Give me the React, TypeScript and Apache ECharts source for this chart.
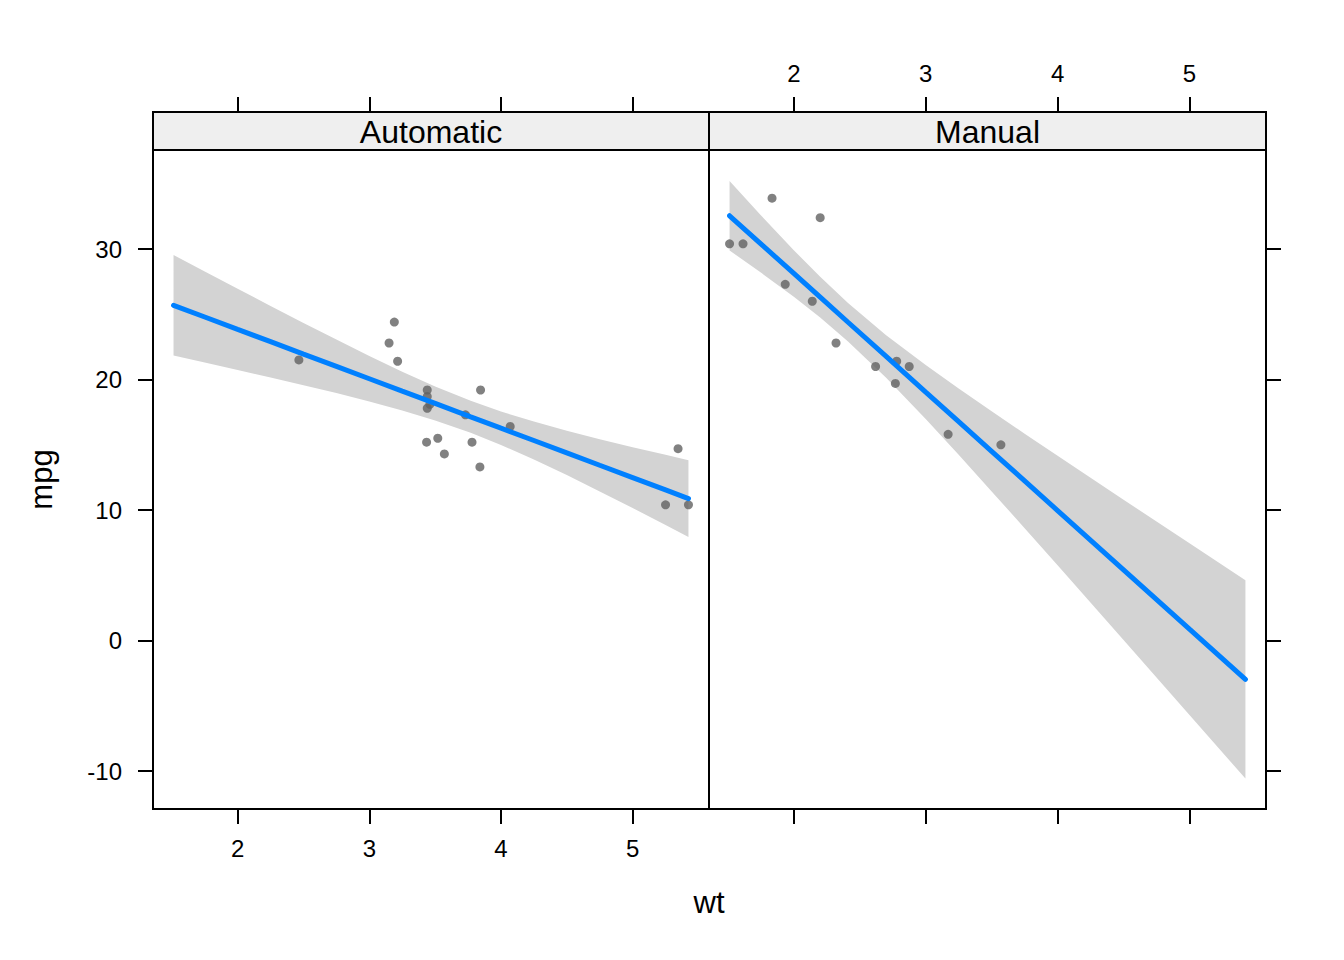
import React, { useEffect, useRef } from "react";
import * as echarts from "echarts";

// Raw data (mtcars): weight (1000 lbs) and mpg by transmission
const autoWt = [3.215, 3.44, 3.46, 3.57, 3.19, 3.15, 3.44, 3.44, 4.07, 3.73, 3.78, 5.25, 5.424, 5.345, 2.465, 3.52, 3.435, 3.84, 3.845];
const autoMpg = [21.4, 18.7, 18.1, 14.3, 24.4, 22.8, 19.2, 17.8, 16.4, 17.3, 15.2, 10.4, 10.4, 14.7, 21.5, 15.5, 15.2, 13.3, 19.2];
const manWt = [2.62, 2.875, 2.32, 2.2, 1.615, 1.835, 1.935, 2.14, 1.513, 3.17, 2.77, 3.57, 2.78];
const manMpg = [21, 21, 22.8, 32.4, 30.4, 33.9, 27.3, 26, 30.4, 15.8, 19.7, 15, 21.4];

// Fitted line and confidence band
const autoBandWt = [1.513, 1.75, 2.0, 2.25, 2.5, 2.75, 3.0, 3.25, 3.5, 3.77, 4.0, 4.25, 4.5, 4.75, 5.0, 5.25, 5.424];
const autoFit = [25.69, 24.79, 23.84, 22.9, 21.95, 21.01, 20.06, 19.11, 18.17, 17.14, 16.27, 15.33, 14.38, 13.43, 12.49, 11.54, 10.88];
const autoLower = [21.84, 21.3, 20.73, 20.16, 19.56, 18.96, 18.31, 17.63, 16.87, 15.92, 14.99, 13.88, 12.68, 11.43, 10.15, 8.85, 7.94];
const autoUpper = [29.54, 28.28, 26.96, 25.64, 24.34, 23.06, 21.8, 20.6, 19.46, 18.37, 17.55, 16.78, 16.08, 15.43, 14.82, 14.23, 13.82];

const manBandWt = [1.513, 1.75, 2.0, 2.2, 2.411, 2.7, 3.0, 3.25, 3.5, 3.75, 4.0, 4.5, 5.0, 5.424];
const manFit = [32.55, 30.4, 28.13, 26.31, 24.39, 21.77, 19.04, 16.77, 14.5, 12.23, 9.96, 5.42, 0.87, -2.98];
const manLower = [29.89, 28.2, 26.34, 24.75, 22.92, 20.14, 16.97, 14.23, 11.43, 8.61, 5.76, 0.04, -5.7, -10.58];
const manUpper = [35.21, 32.59, 29.91, 27.87, 25.86, 23.4, 21.11, 19.31, 17.57, 15.85, 14.16, 10.79, 7.45, 4.62];

const panelNames = ["Automatic", "Manual"];
const xTicks = [2, 3, 4, 5];
const yTicks = [-10, 0, 10, 20, 30];

const FONT = '"Liberation Sans", Arial, Helvetica, sans-serif';
const X_MIN = 1.357;
const X_MAX = 5.58;
const Y_MIN = -12.91;
const Y_MAX = 37.59;

const PANEL_TOP = 150;
const PANEL_H = 659;
const STRIP_H = 38;
const PANELS = [
  { left: 153, width: 556 },
  { left: 709, width: 557 },
];

function bandSeries(idx: number, wt: number[], lower: number[], upper: number[]) {
  return {
    type: "custom",
    xAxisIndex: idx,
    yAxisIndex: idx,
    silent: true,
    z: 1,
    data: [[wt[0], lower[0]]],
    renderItem: (_params: any, api: any) => {
      const pts: number[][] = [];
      for (let i = 0; i < wt.length; i++) pts.push(api.coord([wt[i], upper[i]]));
      for (let i = wt.length - 1; i >= 0; i--) pts.push(api.coord([wt[i], lower[i]]));
      return {
        type: "polygon",
        shape: { points: pts },
        style: { fill: "#d3d3d3", stroke: "none" },
      };
    },
  };
}

function xAxisDef(grid: number, position: "top" | "bottom", labels: boolean, offset = 0) {
  return {
    type: "value",
    gridIndex: grid,
    position,
    offset,
    min: X_MIN,
    max: X_MAX,
    axisLine: { show: false, onZero: false },
    splitLine: { show: false },
    axisTick: {
      show: true,
      inside: false,
      length: 15,
      customValues: xTicks,
      lineStyle: { color: "#000", width: 2 },
    },
    axisLabel: {
      show: labels,
      customValues: xTicks,
      margin: 27,
      color: "#000",
      fontSize: 24,
      fontFamily: FONT,
    },
  };
}

export default function App() {
  const ref = useRef<HTMLDivElement>(null);

  useEffect(() => {
    if (!ref.current) return;
    const chart = echarts.init(ref.current, null, { renderer: "svg" });

    const option: any = {
      animation: false,
      backgroundColor: "#ffffff",
      grid: PANELS.map((p) => ({
        left: p.left,
        top: PANEL_TOP,
        width: p.width,
        height: PANEL_H,
        show: true,
        borderColor: "#000",
        borderWidth: 2,
        backgroundColor: "transparent",
        containLabel: false,
      })),
      xAxis: [
        xAxisDef(0, "bottom", true),
        xAxisDef(1, "bottom", false),
        xAxisDef(0, "top", false, STRIP_H),
        xAxisDef(1, "top", true, STRIP_H),
      ],
      yAxis: [
        {
          type: "value",
          gridIndex: 0,
          position: "left",
          min: Y_MIN,
          max: Y_MAX,
          name: "mpg",
          nameLocation: "middle",
          nameRotate: 90,
          nameGap: 96,
          nameTextStyle: { color: "#000", fontSize: 31, fontFamily: FONT },
          axisLine: { show: false, onZero: false },
          splitLine: { show: false },
          axisTick: {
            show: true,
            inside: false,
            length: 15,
            customValues: yTicks,
            lineStyle: { color: "#000", width: 2 },
          },
          axisLabel: {
            show: true,
            customValues: yTicks,
            margin: 31,
            color: "#000",
            fontSize: 24,
            fontFamily: FONT,
          },
        },
        {
          type: "value",
          gridIndex: 1,
          position: "right",
          min: Y_MIN,
          max: Y_MAX,
          axisLine: { show: false, onZero: false },
          splitLine: { show: false },
          axisTick: {
            show: true,
            inside: false,
            length: 15,
            customValues: yTicks,
            lineStyle: { color: "#000", width: 2 },
          },
          axisLabel: { show: false },
        },
      ],
      series: [
        bandSeries(0, autoBandWt, autoLower, autoUpper),
        bandSeries(1, manBandWt, manLower, manUpper),
        {
          type: "scatter",
          xAxisIndex: 0,
          yAxisIndex: 0,
          z: 2,
          symbol: "circle",
          symbolSize: 9,
          itemStyle: { color: "#616161" },
          data: autoWt.map((w, i) => [w, autoMpg[i]]),
        },
        {
          type: "scatter",
          xAxisIndex: 1,
          yAxisIndex: 1,
          z: 2,
          symbol: "circle",
          symbolSize: 9,
          itemStyle: { color: "#616161" },
          data: manWt.map((w, i) => [w, manMpg[i]]),
        },
        {
          type: "line",
          xAxisIndex: 0,
          yAxisIndex: 0,
          z: 3,
          showSymbol: false,
          symbol: "none",
          lineStyle: { color: "#0080ff", width: 5, cap: "round" },
          data: autoBandWt.map((w, i) => [w, autoFit[i]]),
        },
        {
          type: "line",
          xAxisIndex: 1,
          yAxisIndex: 1,
          z: 3,
          showSymbol: false,
          symbol: "none",
          lineStyle: { color: "#0080ff", width: 5, cap: "round" },
          data: manBandWt.map((w, i) => [w, manFit[i]]),
        },
      ],
      graphic: [
        ...PANELS.map((p, i) => ({
          type: "group",
          children: [
            {
              type: "rect",
              shape: { x: p.left, y: PANEL_TOP - STRIP_H, width: p.width, height: STRIP_H },
              style: { fill: "#efefef", stroke: "#000", lineWidth: 2 },
            },
            {
              type: "text",
              x: p.left + p.width / 2,
              y: PANEL_TOP - STRIP_H / 2 + 1,
              style: {
                text: panelNames[i],
                fill: "#000",
                fontSize: 32,
                fontFamily: FONT,
                align: "center",
                verticalAlign: "middle",
              },
            },
          ],
        })),
        {
          type: "text",
          x: 709,
          y: 902,
          style: {
            text: "wt",
            fill: "#000",
            fontSize: 31,
            fontFamily: FONT,
            align: "center",
            verticalAlign: "middle",
          },
        },
      ],
    };

    chart.setOption(option);
    return () => chart.dispose();
  }, []);

  return (
    <div
      ref={ref}
      style={{ position: "fixed", left: 0, top: 0, width: 1344, height: 960, background: "#fff" }}
    />
  );
}
